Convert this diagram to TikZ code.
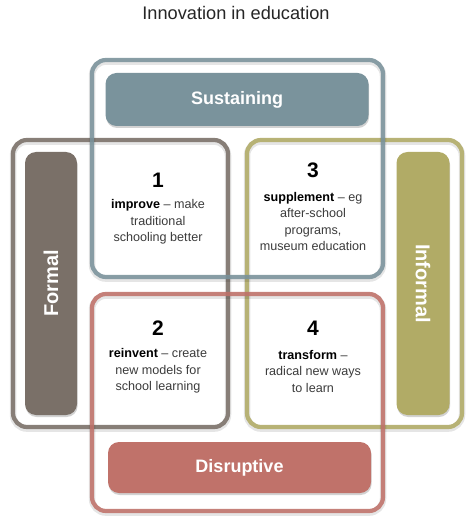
\documentclass[tikz,border=0pt]{standalone}
\usepackage{fontspec}
\setmainfont{Liberation Sans}
\usetikzlibrary{shadows}
\definecolor{susc}{HTML}{7A939C}
\definecolor{disc}{HTML}{C0726A}
\definecolor{forc}{HTML}{7A7068}
\definecolor{infc}{HTML}{B1AB66}
\definecolor{txtc}{HTML}{3C3C3C}
\newcommand\kw[1]{\textcolor{black}{\textbf{#1}}}
\begin{document}
\begin{tikzpicture}[x=1pt,y=-1pt,
  frame/.style={draw=#1, line width=4.2pt, rounded corners=14pt, draw opacity=0.88,
    inner sep=0pt, outer sep=0pt,
    preaction={draw=black, draw opacity=0.10, line width=6.5pt, transform canvas={yshift=-1.6pt}}},
  bar/.style={fill=#1, rounded corners=11pt, inner sep=0pt, outer sep=0pt,
    drop shadow={shadow xshift=0.6pt, shadow yshift=-2pt, opacity=0.35},
    text=white, font=\bfseries\fontsize{18}{21}\selectfont},
  sidelabel/.style={text=white, font=\bfseries\fontsize{20}{23}\selectfont, inner sep=0pt},
  num/.style={font=\bfseries\fontsize{21}{24}\selectfont, text=black, inner sep=0pt},
  body/.style={align=center, font=\fontsize{12.6}{16.5}\selectfont, text=txtc, inner sep=0pt},
  title/.style={font=\fontsize{18.2}{21}\selectfont, text=black!85, inner sep=0pt}]
\useasboundingbox (0,0) rectangle (474,526);
\fill[white] (0,0) rectangle (474,526);

% title
\node[title] (title) at (236,13) {Innovation in education};

% frames
\node[frame=forc, minimum width=215pt, minimum height=287pt] (forframe) at (120.5,283.5) {};
\node[frame=infc, minimum width=215pt, minimum height=287pt] (infframe) at (354.5,283.5) {};
\node[frame=susc, minimum width=291pt, minimum height=217pt] (susframe) at (237.5,168.5) {};
\node[frame=disc, minimum width=291pt, minimum height=217pt] (disframe) at (237.5,402.5) {};

% bars
\node[bar=susc, minimum width=263pt, minimum height=53pt] (susbar) at (237,99.5) {Sustaining};
\node[bar=disc, minimum width=263pt, minimum height=51pt] (disbar) at (239.5,467.5) {Disruptive};
\node[bar=forc, minimum width=52pt, minimum height=263pt] (forbar) at (51,283.5) {};
\node[bar=infc, minimum width=53pt, minimum height=263pt] (infbar) at (423,283.5) {};
\node[sidelabel, rotate=90] (forlabel) at (forbar.center) {Formal};
\node[sidelabel, rotate=-90] (inflabel) at (infbar.center) {Informal};

% quadrant texts
\node[num] (n1) at (158,180) {1};
\node[body] (t1) at (158,222) {\kw{improve} – make\\traditional\\schooling better};
\node[num] (n3) at (313,170) {3};
\node[body] (t3) at (313,221.5) {\kw{supplement} – eg\\after-school\\programs,\\museum education};
\node[num] (n2) at (158,328) {2};
\node[body] (t2) at (158,371) {\kw{reinvent} – create\\new models for\\school learning};
\node[num] (n4) at (313,328) {4};
\node[body] (t4) at (313,371) {\kw{transform} –\\radical new ways\\to learn};
\end{tikzpicture}
\end{document}
